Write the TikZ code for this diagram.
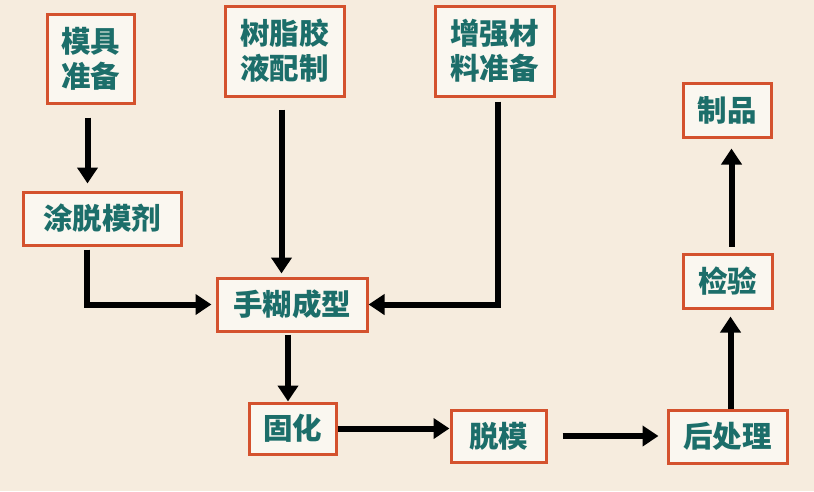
\documentclass[tikz,border=0pt]{standalone}
\usepackage{fontspec}
\usepackage{tikz}
\usepackage{xcolor}
\usetikzlibrary{arrows.meta}
\newfontfamily\cjk{Noto Sans CJK SC}
\definecolor{paper}{RGB}{246,236,222}
\definecolor{boxfill}{RGB}{250,247,240}
\definecolor{boxline}{RGB}{212,82,46}
\definecolor{textteal}{RGB}{28,110,106}
\tikzset{
    step-box/.style = {draw=boxline, fill=boxfill, line width=3pt, rectangle, align=center, inner sep=0pt, text=textteal, font=\cjk\bfseries\fontsize{29.5}{35}\selectfont},
    flow-arrow/.style = {draw=black, line width=6pt, -{Triangle[length=16pt,width=20pt]}},
}

\begin{document}
\begin{tikzpicture}[x=1pt, y=-1pt]
\fill[paper] (0,0) rectangle (814,491);
\useasboundingbox (0,0) rectangle (814,491);

% inputs
\node[step-box, minimum width=87, minimum height=89] (mold) at (90.5,58.5) {模具\\准备};
\node[step-box, minimum width=119, minimum height=90] (resin) at (284.5,51) {树脂胶\\液配制};
\node[step-box, minimum width=119, minimum height=90] (fiber) at (494.5,51) {增强材\\料准备};
\node[step-box, minimum width=158, minimum height=53] (release) at (102,218.5) {涂脱模剂};

% process chain
\node[step-box, minimum width=150, minimum height=53] (layup) at (292,304.5) {手糊成型};
\node[step-box, minimum width=87, minimum height=51] (cure) at (292.5,428.5) {固化};
\node[step-box, minimum width=95, minimum height=52] (demold) at (498.5,436) {脱模};
\node[step-box, minimum width=119, minimum height=53] (post) at (727.5,436.5) {后处理};
\node[step-box, minimum width=89, minimum height=54] (check) at (727.5,281) {检验};
\node[step-box, minimum width=88, minimum height=54] (product) at (727,110) {制品};

\draw[flow-arrow, shorten <=13pt, shorten >=7pt] ([xshift=-3pt]mold.south) -- ([xshift=-3pt]mold.south |- release.north);
\draw[flow-arrow, shorten <=3pt, shorten >=4pt] ([xshift=-15pt]release.south) |- (layup.west);
\draw[flow-arrow, shorten <=12pt, shorten >=3pt] ([xshift=-3pt]resin.south) -- ([xshift=-3pt]resin.south |- layup.north);
\draw[flow-arrow, shorten <=4pt] ([xshift=3pt]fiber.south) |- (layup.east);
\draw[flow-arrow, shorten <=2pt] ([xshift=-4pt]layup.south) -- ([xshift=-4pt]layup.south |- cure.north);
\draw[flow-arrow] (cure.east) -- (cure.east -| demold.west);
\draw[flow-arrow, shorten <=15pt, shorten >=8pt] (demold.east) -- (demold.east -| post.west);
\draw[flow-arrow, shorten >=7pt] ([xshift=3pt]post.north) -- ([xshift=3pt]post.north |- check.south);
\draw[flow-arrow, shorten <=6pt, shorten >=10pt] ([xshift=4pt]check.north) -- ([xshift=4pt]check.north |- product.south);
\end{tikzpicture}
\end{document}
